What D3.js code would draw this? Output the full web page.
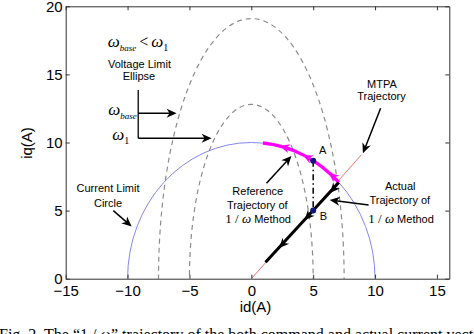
<!DOCTYPE html>
<html>
<head>
<meta charset="utf-8">
<script src="https://cdn.jsdelivr.net/npm/d3@7"></script>
<style>
  body { margin: 0; background: #fff; }
  svg { display: block; }
  .tick text { font-family: "Liberation Sans", Arial, sans-serif; font-size: 15px; fill: #000; }
  .note { font-family: "Liberation Sans", Arial, sans-serif; font-size: 11px; fill: #000; }
  .greek { font-family: "Liberation Serif", "Times New Roman", serif; font-style: italic; }
</style>
</head>
<body>
<script>
// axes
var xDomain = [-15, 16],
    yDomain = [0, 20],
    xTicks = [-15, -10, -5, 0, 5, 10, 15],
    yTicks = [0, 5, 10, 15, 20];

// limit curves (radius / semi axes in A)
var currentLimitRadius = 10;
var voltageEllipses = [
    {name: "base", a: 7.5, b: 19.1},
    {name: "w1", a: 5, b: 12.8}
];

// trajectories
var mtpaLine = [[0, 0], [8.9, 9.1]];
var refTrajectory = [[7.07, 7.07], [0.94, 9.96]];   // along the current circle
var refArrows = [[6.27, 7.79], [4.17, 9.09], [2.28, 9.74]];
var actualTrajectory = [[7.07, 7.07], [1.15, 1.2]];
var actualArrows = [[6.35, 6.3], [4.3, 4.3], [2.25, 2.25]];
var pointA = [5, 8.66], pointB = [5, 5];

// annotation text lines: [text, id, iq]
var noteLines = [
    ["Voltage Limit", -9.04, 15.47],
    ["Ellipse", -9.08, 14.62],
    ["Current Limit", -11.58, 6.33],
    ["Circle", -11.58, 5.3],
    ["MTPA", 10.56, 13.98],
    ["Trajectory", 10.52, 13.15],
    ["Reference", 0.52, 6.11],
    ["Trajectory of", 0.48, 5.12],
    ["Actual", 12.03, 6.51],
    ["Trajectory of", 12.0, 5.52]
];
var methodLines = [[0.55, 4.09], [12.1, 4.09]];
// annotation arrows: [from id, from iq, to id, to iq]
var noteArrows = [
    [-9.14, 12.14, -6.04, 12.14],
    [-9.14, 10.31, -3.21, 10.31],
    [-11.15, 5.0, -9.67, 3.83],
    [10.45, 12.51, 9.02, 9.21],
    [1.23, 7.0, 3.24, 9.01],
    [9.48, 5.41, 6.34, 5.78]
];

var width = 474, height = 334;
var margin = {left: 65.7, right: 24.7, top: 6.3, bottom: 55.3};

var x = d3.scaleLinear().domain(xDomain).range([margin.left, width - margin.right]);
var y = d3.scaleLinear().domain(yDomain).range([height - margin.bottom, margin.top]);

var svg = d3.select("body").append("svg")
    .attr("width", width)
    .attr("height", height);

svg.append("defs").append("clipPath").attr("id", "plot")
    .append("rect")
    .attr("x", x(xDomain[0])).attr("y", y(yDomain[1]))
    .attr("width", x(xDomain[1]) - x(xDomain[0]))
    .attr("height", y(yDomain[0]) - y(yDomain[1]));

var plot = svg.append("g").attr("clip-path", "url(#plot)");

// voltage limit ellipses (dashed)
plot.selectAll(".vle").data(voltageEllipses).enter().append("ellipse")
    .attr("class", "vle")
    .attr("cx", x(0)).attr("cy", y(0))
    .attr("rx", function(d) { return x(d.a) - x(0); })
    .attr("ry", function(d) { return y(0) - y(d.b); })
    .attr("fill", "none")
    .attr("stroke", "#8c8c8c")
    .attr("stroke-width", 1.2)
    .attr("stroke-dasharray", "5,4");

// current limit circle
plot.append("ellipse")
    .attr("cx", x(0)).attr("cy", y(0))
    .attr("rx", x(currentLimitRadius) - x(0))
    .attr("ry", y(0) - y(currentLimitRadius))
    .attr("fill", "none")
    .attr("stroke", "#8585f0")
    .attr("stroke-width", 1);

// MTPA trajectory
var line = d3.line().x(function(d) { return x(d[0]); }).y(function(d) { return y(d[1]); });
plot.append("path").datum(mtpaLine)
    .attr("d", line)
    .attr("fill", "none")
    .attr("stroke", "#f07070")
    .attr("stroke-width", 1);

// reference trajectory, arc of the current circle
var rx = x(currentLimitRadius) - x(0), ry = y(0) - y(currentLimitRadius);
plot.append("path")
    .attr("d", "M" + x(refTrajectory[0][0]) + "," + y(refTrajectory[0][1]) +
        " A" + rx + "," + ry + " 0 0 0 " + x(refTrajectory[1][0]) + "," + y(refTrajectory[1][1]))
    .attr("fill", "none")
    .attr("stroke", "#ff00ff")
    .attr("stroke-width", 3.5);

function head(g, sx, sy, ang, color, len, wid) {
    g.append("path")
        .attr("d", "M0,0 L" + (-len) + "," + (-wid) + " L" + (-len * 0.7) + ",0 L" + (-len) + "," + wid + " Z")
        .attr("transform", "translate(" + sx + "," + sy + ") rotate(" + ang + ")")
        .attr("fill", color);
}

// arrows along reference (counter-clockwise tangent)
refArrows.forEach(function(p) {
    var dx = x(-p[1]) - x(0), dy = y(p[0]) - y(0);
    var ang = Math.atan2(dy, dx) * 180 / Math.PI;
    head(plot, x(p[0]), y(p[1]), ang, "#ff00ff", 10, 4.5);
});

// actual trajectory
plot.append("path").datum(actualTrajectory)
    .attr("d", line)
    .attr("fill", "none")
    .attr("stroke", "#000")
    .attr("stroke-width", 3);

var aAng = Math.atan2(y(actualTrajectory[1][1]) - y(actualTrajectory[0][1]),
    x(actualTrajectory[1][0]) - x(actualTrajectory[0][0])) * 180 / Math.PI;
actualArrows.forEach(function(p) {
    head(plot, x(p[0]), y(p[1]), aAng, "#000", 10, 4.5);
});

// A -> B dash-dot
plot.append("line")
    .attr("x1", x(pointA[0])).attr("y1", y(pointA[1]))
    .attr("x2", x(pointB[0])).attr("y2", y(pointB[1]))
    .attr("stroke", "#000")
    .attr("stroke-width", 1.5)
    .attr("stroke-dasharray", "6,3,1.5,3");

plot.selectAll(".pt").data([pointA, pointB]).enter().append("circle")
    .attr("class", "pt")
    .attr("cx", function(d) { return x(d[0]); })
    .attr("cy", function(d) { return y(d[1]); })
    .attr("r", 3)
    .attr("fill", "#14147a");

// axes, MATLAB style box with inward ticks
function styleAxis(g) {
    g.selectAll(".domain").attr("stroke", "#333");
    g.selectAll(".tick line").attr("stroke", "#333");
}
svg.append("g")
    .attr("transform", "translate(0," + y(0) + ")")
    .call(d3.axisBottom(x).tickValues(xTicks).tickSize(-4).tickSizeOuter(0).tickPadding(7))
    .call(styleAxis);
svg.append("g")
    .attr("transform", "translate(0," + y(20) + ")")
    .call(d3.axisTop(x).tickValues(xTicks).tickSize(-4).tickSizeOuter(0).tickFormat(""))
    .call(styleAxis);
svg.append("g")
    .attr("transform", "translate(" + x(xDomain[0]) + ",0)")
    .call(d3.axisLeft(y).tickValues(yTicks).tickSize(-4).tickSizeOuter(0).tickPadding(3))
    .call(styleAxis);
svg.append("g")
    .attr("transform", "translate(" + x(xDomain[1]) + ",0)")
    .call(d3.axisRight(y).tickValues(yTicks).tickSize(-4).tickSizeOuter(0).tickFormat(""))
    .call(styleAxis);

svg.append("text")
    .attr("x", 255.5).attr("y", 312)
    .attr("text-anchor", "middle")
    .style("font-family", "Liberation Sans, Arial, sans-serif")
    .style("font-size", "15px")
    .text("id(A)");
svg.append("text")
    .attr("transform", "translate(32,143) rotate(-90)")
    .attr("text-anchor", "middle")
    .style("font-family", "Liberation Sans, Arial, sans-serif")
    .style("font-size", "15px")
    .text("iq(A)");

// annotations
var notes = svg.append("g");
noteLines.forEach(function(n) {
    notes.append("text").attr("class", "note")
        .attr("x", x(n[1])).attr("y", y(n[2]))
        .attr("text-anchor", "middle")
        .text(n[0]);
});
methodLines.forEach(function(m) {
    var t = notes.append("text").attr("class", "note")
        .attr("x", x(m[0])).attr("y", y(m[1]))
        .attr("text-anchor", "middle");
    t.append("tspan").style("font-family", "Liberation Serif, serif").style("font-size", "13px").text("1 / ");
    t.append("tspan").attr("class", "greek").style("font-size", "13px").text("ω");
    t.append("tspan").text(" Method");
});
notes.append("text").attr("class", "note")
    .attr("x", x(5.47)).attr("y", y(9.15)).text("A");
notes.append("text").attr("class", "note")
    .attr("x", x(5.53)).attr("y", y(4.31)).text("B");

function omega(g, px, py, sub) {
    var t = g.append("text").attr("x", px).attr("y", py)
        .attr("class", "greek").style("font-size", "17px");
    t.append("tspan").text("ω");
    t.append("tspan").attr("dy", 4).style("font-size", sub === "1" ? "10px" : "9px")
        .style("font-style", sub === "1" ? "normal" : "italic").text(sub);
    return t;
}
var omegaTop = omega(notes, x(-11.61), y(17.03), "base");
omegaTop.append("tspan").attr("dy", -4).attr("dx", 3).style("font-style", "normal").style("font-size", "16px").text("<");
omegaTop.append("tspan").attr("dx", 3).text("ω");
omegaTop.append("tspan").attr("dy", 4).style("font-size", "10px").style("font-style", "normal").text("1");
omega(notes, x(-11.56), y(12.02), "base");
omega(notes, x(-11.24), y(10.19), "1");

notes.append("line")
    .attr("x1", x(-9.14)).attr("y1", y(13.85))
    .attr("x2", x(-9.14)).attr("y2", y(10.31))
    .attr("stroke", "#000").attr("stroke-width", 1.3);

noteArrows.forEach(function(a) {
    var x1 = x(a[0]), y1 = y(a[1]), x2 = x(a[2]), y2 = y(a[3]);
    var ang = Math.atan2(y2 - y1, x2 - x1);
    notes.append("line")
        .attr("x1", x1).attr("y1", y1)
        .attr("x2", x2 - 6 * Math.cos(ang)).attr("y2", y2 - 6 * Math.sin(ang))
        .attr("stroke", "#000").attr("stroke-width", 1.5);
    head(notes, x2, y2, ang * 180 / Math.PI, "#000", 10, 4.5);
});

// caption, cut off by the bottom edge
svg.append("text")
    .attr("x", -1).attr("y", 340)
    .style("font-family", "Liberation Serif, Times New Roman, serif")
    .style("font-size", "16px")
    .text("Fig. 2.  The \u201c1 / \u03c9\u201d trajectory of the both command and actual current vectors.");
</script>
</body>
</html>
